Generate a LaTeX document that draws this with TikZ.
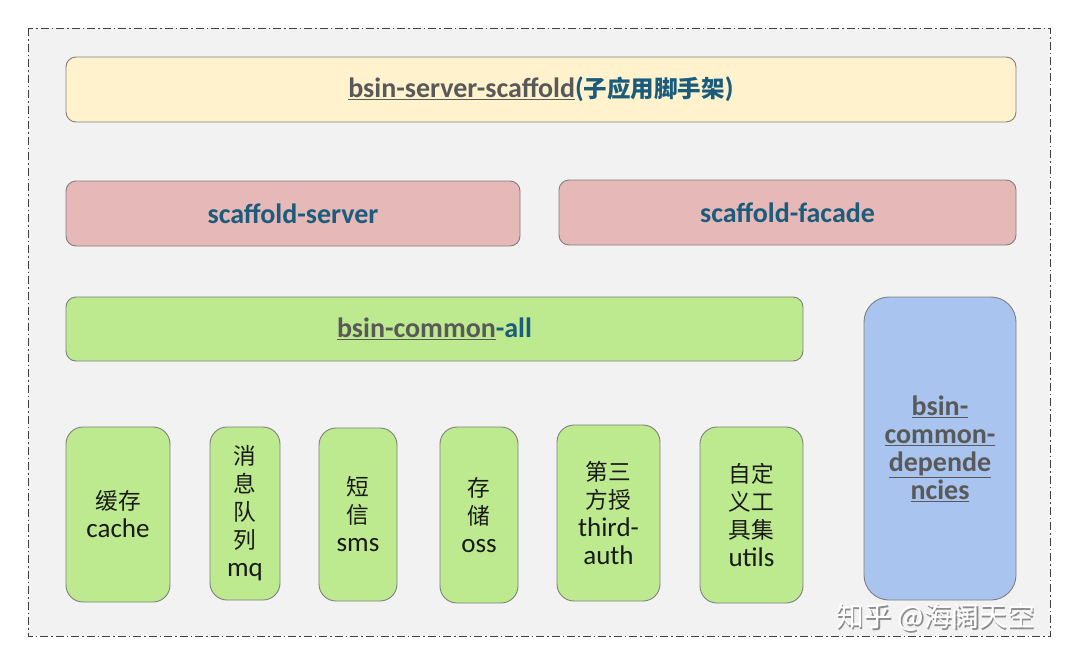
\documentclass[tikz,border=0pt]{standalone}
\usepackage{fontspec}
\setmainfont{Carlito}
\newfontfamily\cjk{Noto Sans CJK SC}[Scale=0.84]
\definecolor{bgc}{HTML}{F2F2F2}
\definecolor{yel}{HTML}{FFF2CC}
\definecolor{pinkc}{HTML}{E6B8B7}
\definecolor{grn}{HTML}{BDEA8E}
\definecolor{blu}{HTML}{A9C4EE}
\definecolor{edgec}{HTML}{7F7F7F}
\definecolor{tealc}{HTML}{1B5C7C}
\definecolor{gtxt}{HTML}{595959}
\definecolor{ktxt}{HTML}{1A1A1A}
\begin{document}
\begin{tikzpicture}[x=1pt,y=-1pt,
  box/.style={draw=edgec, line width=0.9pt, rounded corners=10pt, inner sep=0pt, align=center},
  wide/.style={box, font=\bfseries\fontsize{28}{28}\selectfont},
  small/.style={box, fill=grn, rounded corners=17pt, text=ktxt, font=\fontsize{27}{28}\selectfont},
  wm/.style={font=\cjk\fontsize{33}{33}\selectfont}]
\useasboundingbox (0,0) rectangle (1080,662);
\fill[white] (0,0) rectangle (1080,662);
\draw[fill=bgc, draw=black!75, line width=1pt, dash pattern=on 8pt off 3pt on 1.5pt off 3pt] (28,28) rectangle (1050,636);

\node[wide, fill=yel, minimum width=950pt, minimum height=65pt] (top) at (541,89.5)
  {{\color{gtxt}\underline{bsin-server-scaffold}}{\color{tealc}({\cjk 子应用脚手架})}};
\node[wide, fill=pinkc, text=tealc, minimum width=454pt, minimum height=65pt] (server) at (293,213.5) {scaffold-server};
\node[wide, fill=pinkc, text=tealc, minimum width=457pt, minimum height=65pt] (facade) at (787.5,212.5) {scaffold-facade};
\node[wide, fill=grn, minimum width=737pt, minimum height=64pt] (all) at (434.5,329)
  {{\color{gtxt}\underline{bsin-common}}{\color{tealc}-all}};
\node[wide, fill=blu, text=gtxt, rounded corners=25pt, minimum width=152pt, minimum height=303pt] (deps) at (940,448.5)
  {\underline{bsin-}\\\underline{common-}\\\underline{depende}\\\underline{ncies}};

\node[small, minimum width=104pt, minimum height=175pt] (cache) at (118,514.5) {{\cjk 缓存}\\cache};
\node[small, minimum width=70pt, minimum height=173pt] (mq) at (245,513.5) {{\cjk 消}\\{\cjk 息}\\{\cjk 队}\\{\cjk 列}\\mq};
\node[small, minimum width=78pt, minimum height=173pt] (sms) at (358,514.5) {{\cjk 短}\\{\cjk 信}\\sms};
\node[small, minimum width=78pt, minimum height=176pt] (oss) at (479,515) {{\cjk 存}\\{\cjk 储}\\oss};
\node[small, minimum width=103pt, minimum height=176pt] (third) at (608.5,513) {{\cjk 第三}\\{\cjk 方授}\\third-\\auth};
\node[small, minimum width=103pt, minimum height=176pt] (utils) at (751.5,515) {{\cjk 自定}\\{\cjk 义工}\\{\cjk 具集}\\utils};

\node[wm, text=black!45] (wmshadow) at (937,619) {知乎 @海阔天空};
\node[wm, text=white] (wmark) at (935.5,617.5) {知乎 @海阔天空};
\end{tikzpicture}
\end{document}
